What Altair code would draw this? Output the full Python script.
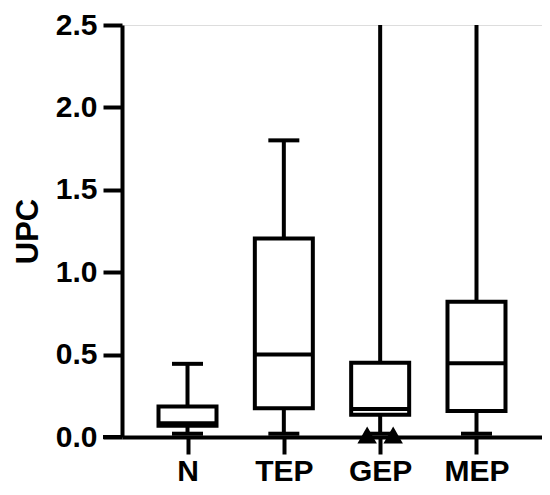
import altair as alt
import pandas as pd

groups = ["N", "TEP", "GEP", "MEP"]
q1 = [0.069, 0.175, 0.135, 0.158]
median = [0.084, 0.50, 0.17, 0.447]
q3 = [0.185, 1.205, 0.45, 0.82]
low = [0.02, 0.02, 0.02, 0.02]
high = [0.444, 1.80, 3.0, 3.0]

outlier_group = ["GEP", "GEP"]
outlier_value = [0.012, 0.012]
outlier_side = [-1, 1]

df = pd.DataFrame({"g": groups, "q1": q1, "med": median, "q3": q3, "lo": low, "hi": high})
out = pd.DataFrame({"g": outlier_group, "v": outlier_value, "side": outlier_side})

FONT = "Liberation Sans"
W, H = 420, 412

xs = alt.X("g:N", sort=groups, title=None,
           scale=alt.Scale(type="point", padding=0.68),
           axis=alt.Axis(labelAngle=0, labelFont=FONT, labelFontSize=30, labelFontWeight="bold",
                         labelColor="black", labelPadding=2, tickSize=17, tickWidth=4,
                         tickColor="black", domainWidth=4, domainColor="black", grid=False))
yscale = alt.Scale(domain=[0, 2.5], nice=False, zero=True)
yaxis = alt.Axis(values=[0, 0.5, 1.0, 1.5, 2.0, 2.5], format=".1f", labelFont=FONT,
                 labelFontSize=30, labelFontWeight="bold", labelColor="black", labelPadding=6,
                 tickSize=19, tickWidth=4, tickColor="black", domainWidth=4, domainColor="black",
                 grid=False, title="UPC", titleFont=FONT, titleFontSize=31, titleFontWeight="bold",
                 titleColor="black", titlePadding=11)

base = alt.Chart(df)

upper = base.mark_rule(color="black", strokeWidth=4, clip=True).encode(
    x=xs, y=alt.Y("q3:Q", scale=yscale, axis=yaxis), y2="hi:Q")
lower = base.mark_rule(color="black", strokeWidth=4, clip=True).encode(
    x=alt.X("g:N", sort=groups), y=alt.Y("lo:Q"), y2="q1:Q")
box = base.mark_bar(size=58, fill="white", stroke="black", strokeWidth=4).encode(
    x=alt.X("g:N", sort=groups), y=alt.Y("q1:Q"), y2="q3:Q")
med = base.mark_tick(size=60, thickness=4, color="black", opacity=1).encode(
    x=alt.X("g:N", sort=groups), y=alt.Y("med:Q"))
cap_hi = base.mark_tick(size=31, thickness=4, color="black", opacity=1, clip=True).encode(
    x=alt.X("g:N", sort=groups), y=alt.Y("hi:Q"))
cap_lo = base.mark_tick(size=31, thickness=4, color="black", opacity=1).encode(
    x=alt.X("g:N", sort=groups), y=alt.Y("lo:Q"))
pts = alt.Chart(out).mark_point(shape="triangle-up", filled=True, color="black", opacity=1,
                                size=380).encode(
    x=alt.X("g:N", sort=groups), y=alt.Y("v:Q"),
    xOffset=alt.XOffset("side:Q", scale=alt.Scale(domain=[-1, 1], range=[-13, 13])))

ext = alt.Chart(df).mark_rule(color="black", strokeWidth=4).encode(
    x=alt.value(-19), x2=alt.value(0), y=alt.value(H))

chart = alt.layer(upper, lower, box, med, cap_hi, cap_lo, pts, ext).properties(
    width=W, height=H,
    autosize=alt.AutoSizeParams(type="none"),
    padding={"left": 114, "top": 17, "right": 0, "bottom": 50},
).configure_view(stroke=None).configure(background="white")

chart.save("out.html", embed_options={"renderer": "svg", "actions": False})
